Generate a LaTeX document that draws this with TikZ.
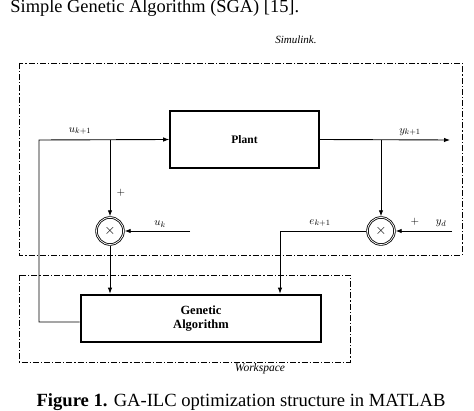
\documentclass[tikz,border=0pt]{standalone}
\usepackage{fontspec}
\setmainfont{Liberation Serif}
\usetikzlibrary{positioning, arrows.meta, calc}

\begin{document}
\begin{tikzpicture}[%
    x=1pt, y=-1pt,
    >={Latex[length=6pt,width=4.5pt]},
    every node/.style={%
      font=\footnotesize,
      text centered,
      align=center
    },
    every path/.style={line width=0.9pt},
    block/.style={draw, line width=1.6pt, font=\bfseries\fontsize{11.5}{13}\selectfont, inner sep=0pt},
    gablock/.style={draw, line width=2.6pt, font=\bfseries\fontsize{12.5}{14}\selectfont, inner sep=0pt},
    sumnode/.style={circle, draw, line width=2.4pt, minimum size=27pt, inner sep=0pt, font=\Large},
    sig/.style={font=\fontsize{11}{12}\selectfont, inner sep=1pt},
    frame/.style={draw, line width=0.8pt, dash pattern=on 6pt off 2pt on 1.2pt off 2pt}
  ]
  \useasboundingbox (0,0) rectangle (474,411);

  % surrounding text
  \node[anchor=base west, font=\fontsize{18.4}{20}\selectfont, inner sep=0pt] (intro) at (10,13)
    {Simple Genetic Algorithm (SGA) [15].};
  \node[anchor=base, font=\fontsize{18.6}{20}\selectfont, inner sep=0pt] (caption) at (241,407)
    {\textbf{Figure 1.} GA-ILC optimization structure in MATLAB};

  % frames
  \draw[frame] (19,63) rectangle (462,255);
  \draw[frame] (19,275) rectangle (350,362);
  \node[font=\fontsize{11}{12}\selectfont\itshape] (simlabel) at (296,40) {Simulink.};
  \node[font=\fontsize{11.5}{12}\selectfont\itshape] (wslabel) at (260,369) {Workspace};

  % blocks
  \node[block, minimum width=149pt, minimum height=57pt] (plant) at (244.5,139.5) {Plant};
  \node[gablock, minimum width=240pt, minimum height=47pt] (ga) at (201,318.5)
    {Genetic\\Algorithm};
  \draw[white, line width=0.8pt] (ga.north west) rectangle (ga.south east);
  \node[sumnode] (sum1) at (110,231) {$\times$};
  \node[sumnode] (sum2) at (381,231) {$\times$};
  \draw[white, line width=0.8pt] (sum1) circle (13.5pt);
  \draw[white, line width=0.8pt] (sum2) circle (13.5pt);

  % connector points
  \coordinate (loopb) at (39,322);
  \coordinate (loopt) at (39,140);
  \coordinate (bu) at (110,140);
  \coordinate (by) at (381,140);
  \coordinate (yout) at (450,140);
  \coordinate (uk) at (190,231);
  \coordinate (yd) at (452,231);
  \coordinate (eg) at (280,0);

  % connectors
  \draw[->] ([yshift=-3.5pt]ga.west) -- (loopb) -- (loopt) -- (plant.west);
  \draw[->] (bu) -- (sum1.north);
  \draw[->] (sum1.south) -- (sum1.south |- ga.north);
  \draw[->] (uk) -- (sum1.east);
  \draw[->] (plant.east) -- (yout);
  \draw[->] (by) -- (sum2.north);
  \draw[->] (yd) -- (sum2.east);
  \draw[->] (sum2.west) -| (eg |- ga.north);

  % signal labels
  \node[sig] (lu1) at (80,131) {$u_{k+1}$};
  \node[sig] (lp1) at (121,193) {$+$};
  \node[sig] (luk) at (160,224) {$u_k$};
  \node[sig] (ly1) at (410,132) {$y_{k+1}$};
  \node[sig] (le1) at (320,223) {$e_{k+1}$};
  \node[sig] (lp2) at (415,222) {$+$};
  \node[sig] (lyd) at (441,223) {$y_d$};

\end{tikzpicture}
\end{document}
